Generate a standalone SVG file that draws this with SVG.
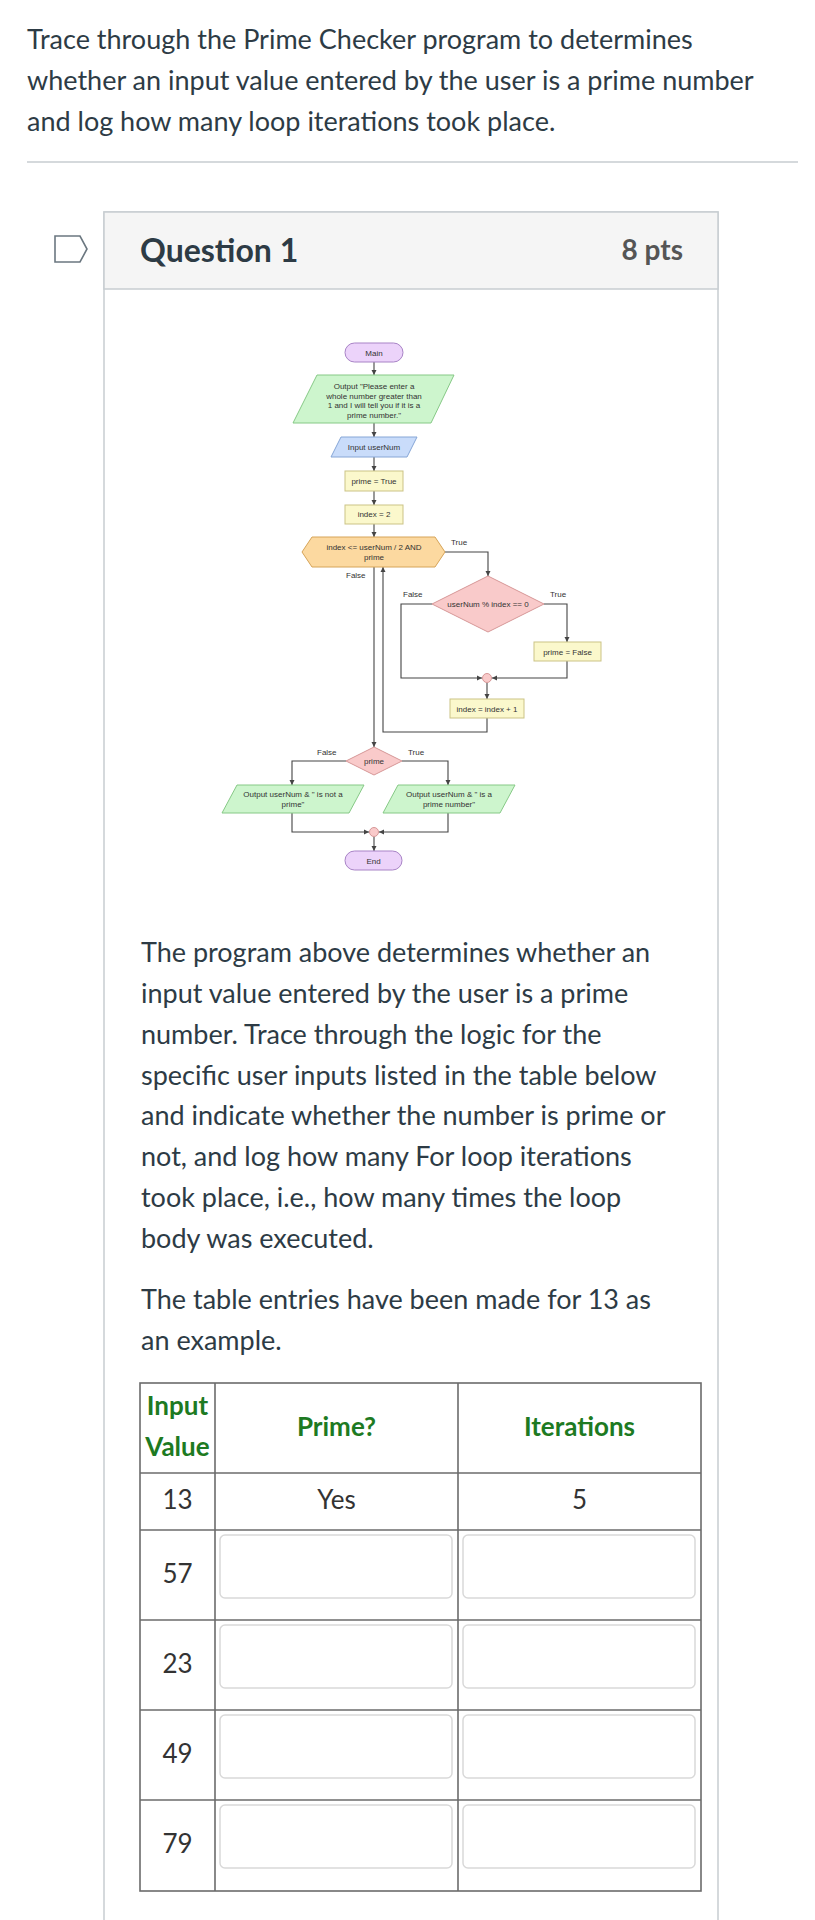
<svg xmlns="http://www.w3.org/2000/svg" width="815" height="1920" viewBox="0 0 815 1920">
<defs>
<marker id="ah" markerWidth="6" markerHeight="6" refX="5" refY="3" orient="auto" markerUnits="userSpaceOnUse"><path d="M0,0.5 L5,3 L0,5.5 z" fill="#444"/></marker>
<style>
.pg{font-family:Lato,"Liberation Sans",sans-serif;fill:#2d3b45;font-size:27px}
.fc{font-family:"Liberation Sans",Arial,sans-serif;font-size:8px;fill:#333;text-anchor:middle}
.lb{font-family:"Liberation Sans",Arial,sans-serif;font-size:8px;fill:#333}
.ln{fill:none;stroke:#444;stroke-width:1.1}
.ar{fill:none;stroke:#444;stroke-width:1.1;marker-end:url(#ah)}
.term{fill:#ecd3fa;stroke:#a883c6;stroke-width:1}
.out{fill:#cdf5cd;stroke:#86c986;stroke-width:1}
.inp{fill:#c9dcfa;stroke:#86a6d6;stroke-width:1}
.proc{fill:#fbf8cc;stroke:#cbc386;stroke-width:1}
.loop{fill:#fcd9a0;stroke:#d6a458;stroke-width:1}
.dec{fill:#f9caca;stroke:#d69797;stroke-width:1}
.th{font-family:Lato,"Liberation Sans",sans-serif;font-weight:bold;fill:#1d7a22;text-anchor:middle;font-size:26px}
.td{font-family:Lato,"Liberation Sans",sans-serif;fill:#333;text-anchor:middle;font-size:26px}
.box{fill:#fff;stroke:#d9d9d9;stroke-width:1.5}
.tl{stroke:#6b6b6b;stroke-width:1.6;fill:none}
</style>
</defs>
<rect width="815" height="1920" fill="#fff"/>

<g id="intro">
<text class="pg" x="27" y="49">Trace through the Prime Checker program to determines</text>
<text class="pg" x="27" y="90">whether an input value entered by the user is a prime number</text>
<text class="pg" x="27" y="131">and log how many loop iterations took place.</text>
<line x1="27" y1="162" x2="798" y2="162" stroke="#c7cdd1" stroke-width="1.5"/>
</g>

<g id="question-box">
<rect x="104" y="212" width="614" height="1720" fill="#fff" stroke="#c7cdd1" stroke-width="1.5"/>
<rect x="104" y="212" width="614" height="77" fill="#f5f5f5" stroke="#c7cdd1" stroke-width="1.5"/>
<path d="M55,236 L80,236 L87,249 L80,262 L55,262 Z" fill="none" stroke="#6b7780" stroke-width="1.6"/>
<text x="140" y="262" font-family="Lato,'Liberation Sans',sans-serif" font-weight="bold" font-size="32" fill="#2d3b45">Question 1</text>
<text x="683" y="260" text-anchor="end" font-family="Lato,'Liberation Sans',sans-serif" font-weight="bold" font-size="28" fill="#555">8 pts</text>
</g>

<g id="connectors">
<path class="ar" d="M374,362 V375"/>
<path class="ar" d="M374,423 V437"/>
<path class="ar" d="M374,457 V471"/>
<path class="ar" d="M374,491 V505"/>
<path class="ar" d="M374,524 V537"/>
<path class="ar" d="M445,552 H488 V576"/>
<path class="ar" d="M432,604 H401 V678 H482"/>
<path class="ar" d="M544,604 H567 V642"/>
<path class="ar" d="M567,661 V678 H492"/>
<path class="ar" d="M487,683 V699"/>
<path class="ar" d="M487,718 V732 H383 V567"/>
<path class="ar" d="M374,567 V747"/>
<path class="ar" d="M346,761 H292 V785"/>
<path class="ar" d="M402,761 H448 V785"/>
<path class="ar" d="M292,813 V832 H369"/>
<path class="ar" d="M448,813 V832 H379"/>
<path class="ar" d="M374,837 V851"/>
<text class="lb" x="451" y="545">True</text>
<text class="lb" x="346" y="578">False</text>
<text class="lb" x="403" y="597">False</text>
<text class="lb" x="550" y="597">True</text>
<text class="lb" x="317" y="755">False</text>
<text class="lb" x="408" y="755">True</text>
</g>

<g id="main">
<rect class="term" x="345" y="343" width="58" height="19" rx="9.5"/>
<text class="fc" x="374" y="355.5">Main</text>
</g>
<g id="output-prompt">
<polygon class="out" points="317,375 454,375 431,423 293,423"/>
<text class="fc" x="374" y="389">Output "Please enter a</text>
<text class="fc" x="374" y="398.5">whole number greater than</text>
<text class="fc" x="374" y="408">1 and I will tell you if it is a</text>
<text class="fc" x="374" y="417.5">prime number."</text>
</g>
<g id="input-usernum">
<polygon class="inp" points="341,437 417,437 407,457 331,457"/>
<text class="fc" x="374" y="450">Input userNum</text>
</g>
<g id="prime-true">
<rect class="proc" x="345" y="471" width="58" height="20"/>
<text class="fc" x="374" y="484">prime = True</text>
</g>
<g id="index-2">
<rect class="proc" x="345" y="505" width="58" height="19"/>
<text class="fc" x="374" y="517">index = 2</text>
</g>
<g id="loop-condition">
<polygon class="loop" points="302,552 312,537 435,537 445,552 435,567 312,567"/>
<text class="fc" x="374" y="550">index &lt;= userNum / 2 AND</text>
<text class="fc" x="374" y="559.5">prime</text>
</g>
<g id="mod-check">
<polygon class="dec" points="488,576 544,604 488,632 432,604"/>
<text class="fc" x="488" y="607">userNum % index == 0</text>
</g>
<g id="prime-false">
<rect class="proc" x="534" y="642" width="67" height="19"/>
<text class="fc" x="567.5" y="654.5">prime = False</text>
</g>
<g id="join-1">
<circle class="dec" cx="487" cy="678" r="4.5"/>
</g>
<g id="index-inc">
<rect class="proc" x="450" y="699" width="74" height="19"/>
<text class="fc" x="487" y="711.5">index = index + 1</text>
</g>
<g id="prime-check">
<polygon class="dec" points="374,747 402,761 374,775 346,761"/>
<text class="fc" x="374" y="764">prime</text>
</g>
<g id="output-not-prime">
<polygon class="out" points="237,785 364,785 349,813 222,813"/>
<text class="fc" x="293" y="797">Output userNum &amp; " is not a</text>
<text class="fc" x="293" y="806.5">prime"</text>
</g>
<g id="output-prime">
<polygon class="out" points="398,785 515,785 500,813 383,813"/>
<text class="fc" x="449" y="797">Output userNum &amp; " is a</text>
<text class="fc" x="449" y="806.5">prime number"</text>
</g>
<g id="join-2">
<circle class="dec" cx="374" cy="832" r="4.5"/>
</g>
<g id="end">
<rect class="term" x="345" y="851" width="57" height="19" rx="9.5"/>
<text class="fc" x="373.5" y="864">End</text>
</g>

<g id="description">
<text class="pg" x="141" y="962">The program above determines whether an</text>
<text class="pg" x="141" y="1003">input value entered by the user is a prime</text>
<text class="pg" x="141" y="1044">number. Trace through the logic for the</text>
<text class="pg" x="141" y="1085">specific user inputs listed in the table below</text>
<text class="pg" x="141" y="1125">and indicate whether the number is prime or</text>
<text class="pg" x="141" y="1166">not, and log how many For loop iterations</text>
<text class="pg" x="141" y="1207">took place, i.e., how many times the loop</text>
<text class="pg" x="141" y="1248">body was executed.</text>
<text class="pg" x="141" y="1309">The table entries have been made for 13 as</text>
<text class="pg" x="141" y="1350">an example.</text>
</g>

<g id="table">
<rect class="tl" x="140" y="1383" width="561" height="508"/>
<line class="tl" x1="215" y1="1383" x2="215" y2="1891"/>
<line class="tl" x1="458" y1="1383" x2="458" y2="1891"/>
<line class="tl" x1="140" y1="1473" x2="701" y2="1473"/>
<line class="tl" x1="140" y1="1530" x2="701" y2="1530"/>
<line class="tl" x1="140" y1="1620" x2="701" y2="1620"/>
<line class="tl" x1="140" y1="1710" x2="701" y2="1710"/>
<line class="tl" x1="140" y1="1800" x2="701" y2="1800"/>
<text class="th" x="177.5" y="1415" font-size="25">Input</text>
<text class="th" x="177.5" y="1456" font-size="25">Value</text>
<text class="th" x="336.5" y="1436">Prime?</text>
<text class="th" x="579.5" y="1436">Iterations</text>
<text class="td" x="177.5" y="1509">13</text>
<text class="td" x="336.5" y="1509">Yes</text>
<text class="td" x="579.5" y="1509">5</text>
<text class="td" x="177.5" y="1583">57</text>
<text class="td" x="177.5" y="1673">23</text>
<text class="td" x="177.5" y="1763">49</text>
<text class="td" x="177.5" y="1853">79</text>
<rect class="box" x="220" y="1535" width="232" height="63" rx="5"/>
<rect class="box" x="463" y="1535" width="232" height="63" rx="5"/>
<rect class="box" x="220" y="1625" width="232" height="63" rx="5"/>
<rect class="box" x="463" y="1625" width="232" height="63" rx="5"/>
<rect class="box" x="220" y="1715" width="232" height="63" rx="5"/>
<rect class="box" x="463" y="1715" width="232" height="63" rx="5"/>
<rect class="box" x="220" y="1805" width="232" height="63" rx="5"/>
<rect class="box" x="463" y="1805" width="232" height="63" rx="5"/>
</g>
</svg>
